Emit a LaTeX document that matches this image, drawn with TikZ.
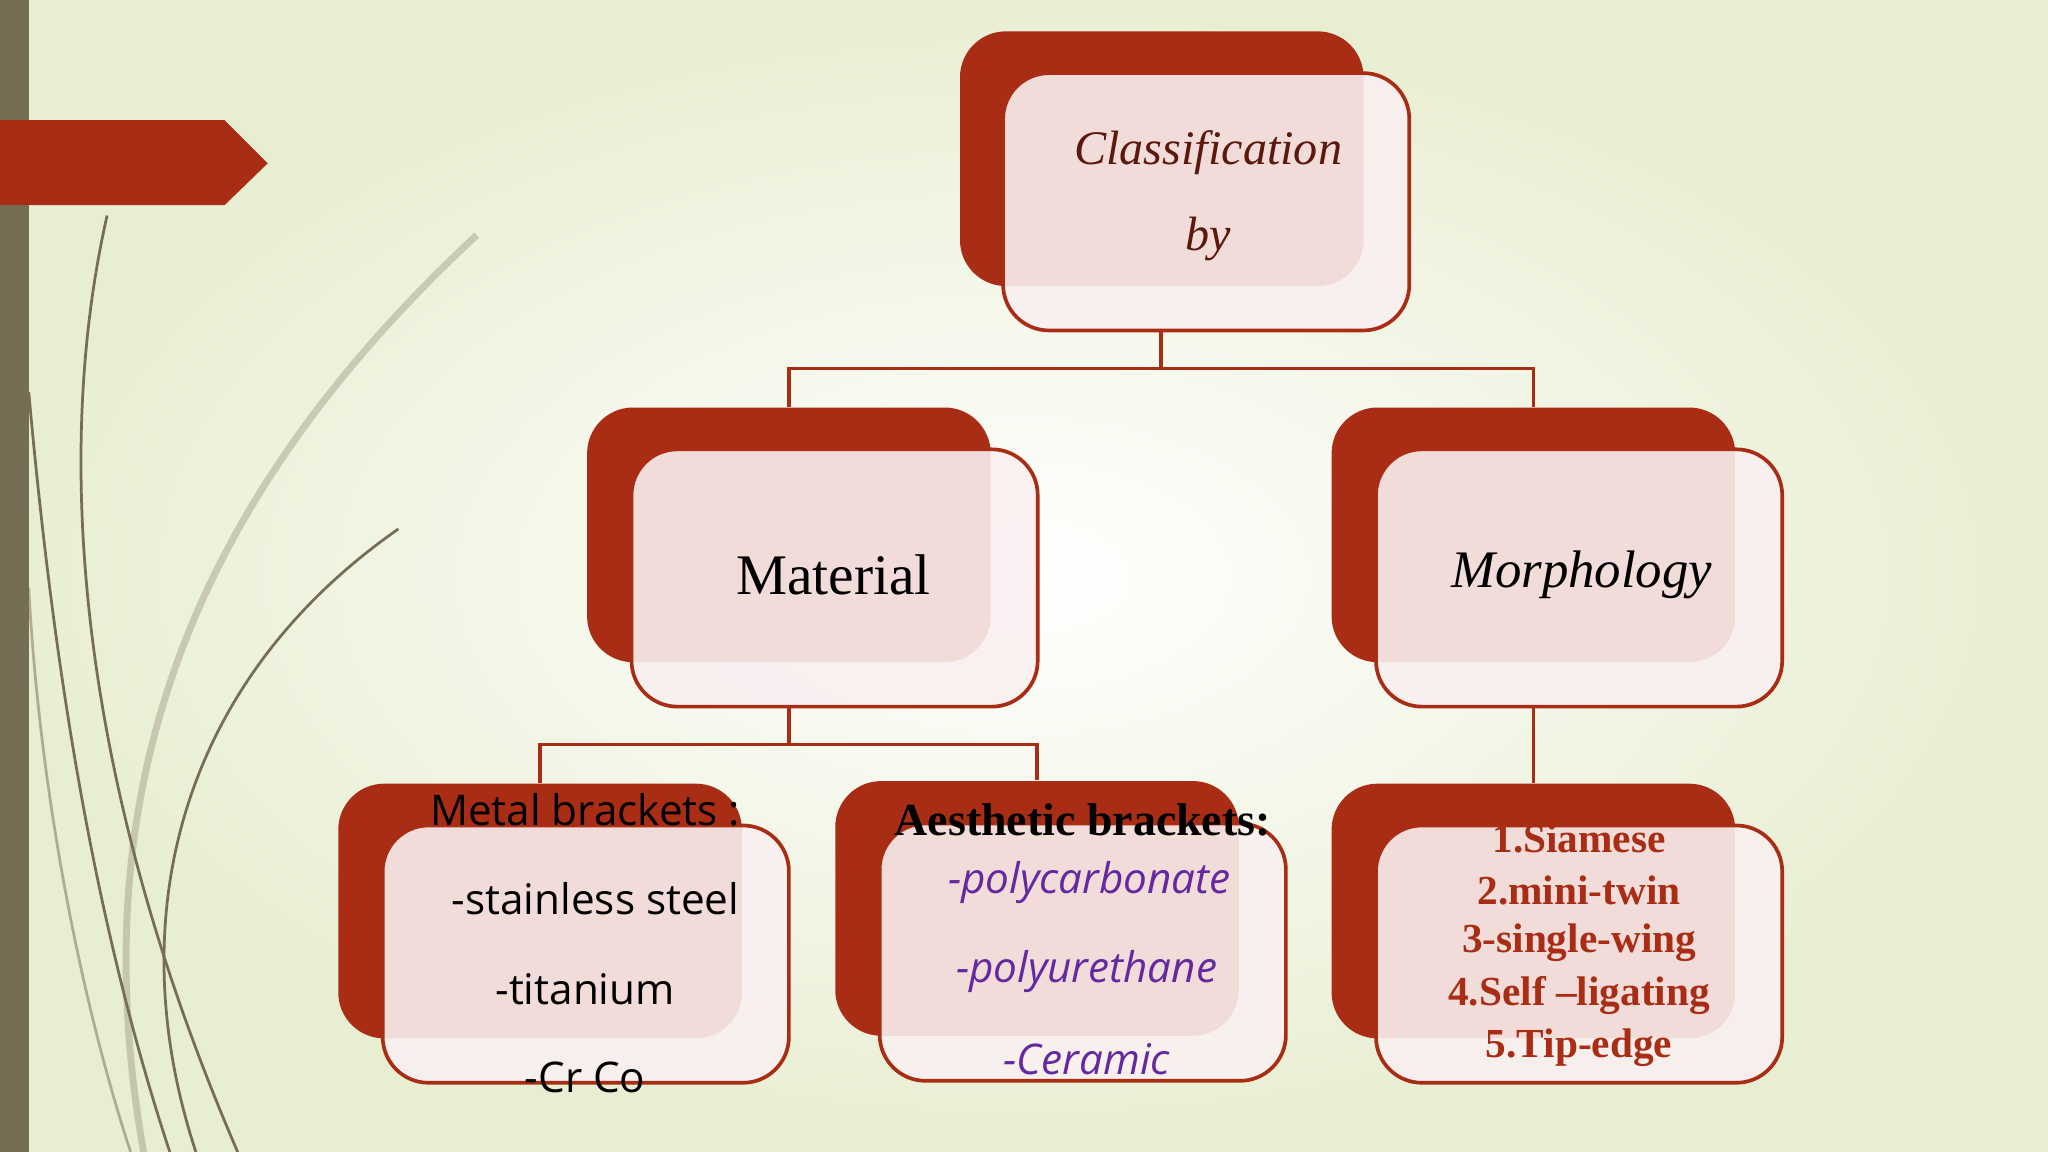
\documentclass[tikz,border=0pt]{standalone}
\usepackage{fontspec}
\setmainfont{Liberation Serif}
\newfontfamily\sansf{Open Sans}
\usetikzlibrary{positioning}
\definecolor{brick}{RGB}{168,45,20}
\definecolor{blush}{RGB}{249,240,240}
\definecolor{olive}{RGB}{118,110,84}
\definecolor{leaf}{RGB}{232,238,210}
\definecolor{grape}{RGB}{100,40,160}
\tikzset{
  back/.style={fill=brick,rounded corners=10pt,minimum width=3.09cm,minimum height=1.95cm,inner sep=0pt},
  front/.style={draw=brick,line width=0.8pt,fill=blush,fill opacity=0.9,text opacity=1,
    rounded corners=10pt,minimum width=3.11cm,minimum height=1.97cm,inner sep=0pt,align=center},
  link/.style={draw=brick,line width=0.8pt},
  strand/.style={draw=olive,line width=0.6pt}
}
\begin{document}
\begin{tikzpicture}[x=0.1mm,y=-0.1mm]
  % background
  \shade[inner color=white,outer color=leaf] (0,0) rectangle (1568,882);
  \useasboundingbox (0,0) rectangle (1568,882);
  \fill[olive] (0,0) rectangle (22,882);
  \fill[brick] (0,92) -- (172,92) -- (205,125) -- (172,157) -- (0,157) -- cycle;
  % strands
  \draw[strand] (182,882) .. controls (60,600) and (40,350) .. (82,165);
  \draw[strand] (150,882) .. controls (90,700) and (140,520) .. (305,405);
  \draw[strand,opacity=0.3,line width=1.5pt] (110,882) .. controls (60,600) and (150,380) .. (365,180);
  \draw[strand] (130,882) .. controls (70,700) and (40,500) .. (22,300);
  \draw[strand,opacity=0.5] (100,882) .. controls (60,760) and (30,600) .. (22,450);
  % boxes
  \node[back] (topb) at (889.5,121.5) {};
  \node[front] (top) at (923.5,154.5) {};
  \node[font=\itshape\fontsize{10.5}{14}\selectfont,text=brick!55!black] at (925,117) {Classification};
  \node[font=\itshape\fontsize{10.5}{14}\selectfont,text=brick!55!black] at (925,183) {by};
  \node[back] (matb) at (604,409.5) {};
  \node[front] (mat) at (639,442.5) {};
  \node[font=\fontsize{12.5}{16}\selectfont] at (638,440) {Material};
  \node[back] (morb) at (1174,409.5) {};
  \node[front] (mor) at (1209,442.5) {};
  \node[font=\itshape\fontsize{11.5}{16}\selectfont] at (1211,440) {Morphology};
  \node[back] (metb) at (413.5,697.5) {};
  \node[front] (met) at (448.5,730.5) {};
  \node[back] (aesb) at (794,695.5) {};
  \node[front] (aes) at (829,729) {};
  \node[back] (typb) at (1174,697.5) {};
  \node[front] (typ) at (1209,730.5) {};
  % texts of lower boxes
  \node[font=\sansf\fontsize{9.2}{12}\selectfont] at (448,620) {Metal brackets :};
  \node[font=\sansf\fontsize{9.2}{12}\selectfont] at (456,688) {-stainless steel};
  \node[font=\sansf\fontsize{9.2}{12}\selectfont] at (448,757) {-titanium};
  \node[font=\sansf\fontsize{9.2}{12}\selectfont] at (448,825) {-Cr Co};
  \node[font=\bfseries\fontsize{10}{12}\selectfont] at (829,628) {Aesthetic brackets:};
  \node[font=\sansf\itshape\fontsize{9.2}{12}\selectfont,text=grape] at (834,676) {-polycarbonate};
  \node[font=\sansf\itshape\fontsize{9.2}{12}\selectfont,text=grape] at (832,744) {-polyurethane};
  \node[font=\sansf\itshape\fontsize{9.2}{12}\selectfont,text=grape] at (832,811) {-Ceramic};
  \foreach \t [count=\i] in {1.Siamese,2.mini-twin,3-single-wing,4.Self –ligating,5.Tip-edge}
    \node[font=\bfseries\fontsize{9}{12}\selectfont,text=brick] at (1209,{602+\i*40}) {\t};
  % connectors
  \coordinate (j1) at (889,282);
  \coordinate (j2) at (604,570);
  \draw[link] (j1 |- top.south) -- (j1) -| (matb.north);
  \draw[link] (j1) -| (morb.north);
  \draw[link] (j2 |- mat.south) -- (j2) -| (metb.north);
  \draw[link] (j2) -| (aesb.north);
  \draw[link] (morb.north |- mor.south) -- (typb.north);
\end{tikzpicture}
\end{document}
